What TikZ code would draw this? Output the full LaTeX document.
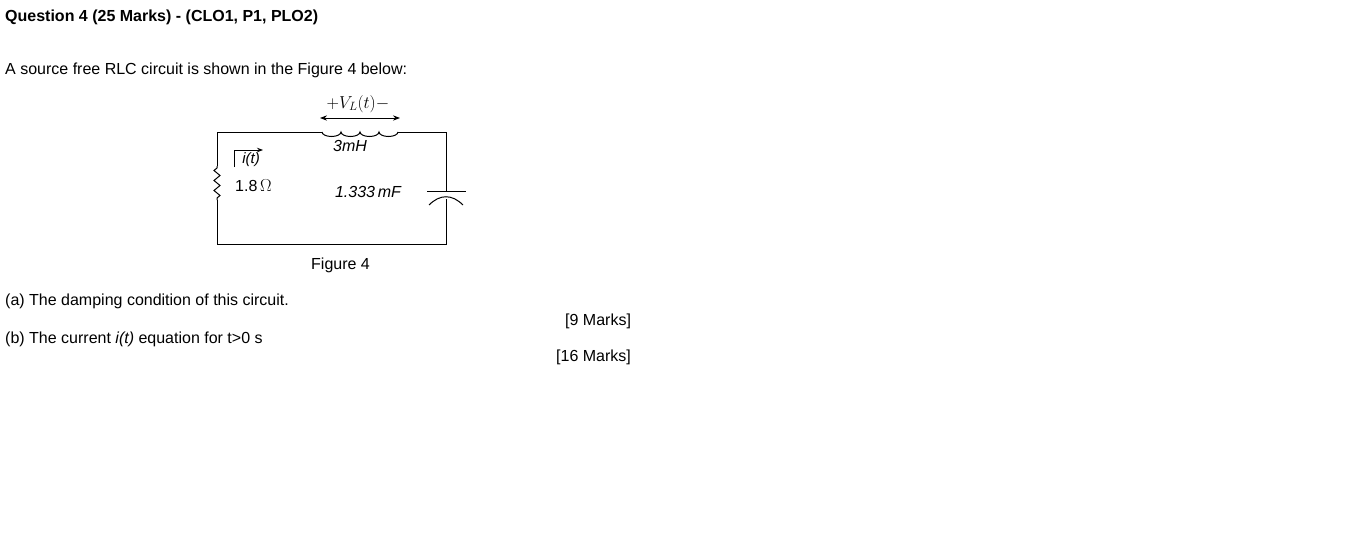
\documentclass[tikz,border=0pt]{standalone}
\usepackage{fontspec}
\setmainfont{Liberation Sans}
\usetikzlibrary{arrows.meta,decorations.pathmorphing}
\begin{document}
\begin{tikzpicture}[x=1pt,y=-1pt,
  txt/.style={anchor=west,inner sep=0pt,font=\fontsize{16}{18}\selectfont},
  wire/.style={line width=1pt,black}]
\useasboundingbox (0,0) rectangle (1360,554);
\fill[white] (0,0) rectangle (1360,554);
\node[txt,font=\fontsize{16}{18}\selectfont\bfseries] (t) at (5,17) {Question 4 (25 Marks) - (CLO1, P1, PLO2)};
\node[txt] (a) at (5,70) {A source free RLC circuit is shown in the Figure 4 below:};
% circuit
\coordinate (tl) at (217,132); \coordinate (tr) at (446,132);
\coordinate (bl) at (217,244); \coordinate (br) at (446,244);
\coordinate (l1) at (322,132); \coordinate (l2) at (398,132);
\coordinate (r1) at (217,166); \coordinate (r2) at (217,200);
\coordinate (c1) at (446,191); \coordinate (c2) at (446,199);
\draw[wire] (r1) -- (tl) -- (l1);
\draw[wire] (l1) arc[start angle=180,end angle=0,x radius=9.5,y radius=4.5] arc[start angle=180,end angle=0,x radius=9.5,y radius=4.5] arc[start angle=180,end angle=0,x radius=9.5,y radius=4.5] arc[start angle=180,end angle=0,x radius=9.5,y radius=4.5];
\draw[wire] (l2) -- (tr) -- (c1);
\draw[wire] (c2) -- (br) -- (bl) -- (r2);
\draw[wire] (r1) -- ++(0,2) -- ++(-3,2.5) -- ++(6,5) -- ++(-6,5) -- ++(6,5) -- ++(-6,5) -- ++(6,5) -- ++(-3,2.5) -- (r2);
\draw[wire] (427,191) -- (466,191);
\draw[wire] (429,205) .. controls (440,194) and (452,194) .. (463,205);
\draw[line width=1pt,-{Stealth[length=6pt]}] (234,167) -- (234,150) -- (263,150);
\node[inner sep=0pt,font=\fontsize{15}{17}\selectfont\itshape] (it) at (251,160) {\textit{i}(\textit{t})};
\node[inner sep=0pt,anchor=west,font=\fontsize{16}{18}\selectfont\rmfamily] (rv) at (235,186) {1.8\,\textit{$\Omega$}};
\node[inner sep=0pt,font=\fontsize{16}{18}\selectfont\itshape] (lv) at (350,146) {3mH};
\node[inner sep=0pt,font=\fontsize{16}{18}\selectfont\itshape] (cv) at (368,192) {1.333\,mF};
\node[inner sep=0pt,font=\fontsize{18}{20}\selectfont\rmfamily] (vl) at (358,104) {$+V_L(t)-$};
\coordinate (va) at (320,118); \coordinate (vb) at (400,118);
\draw[line width=1pt,{Stealth[length=7pt]}-{Stealth[length=7pt]}] (va) -- (vb);
\node[txt] (f) at (311,265) {Figure 4};
\node[txt] (qa) at (5,301) {(a) The damping condition of this circuit.};
\node[txt] (ma) at (565,321) {[9 Marks]};
\node[txt] (qb) at (5,339) {(b) The current \textit{i(t)} equation for t>0 s};
\node[txt] (mb) at (556,357) {[16 Marks]};
\end{tikzpicture}
\end{document}
